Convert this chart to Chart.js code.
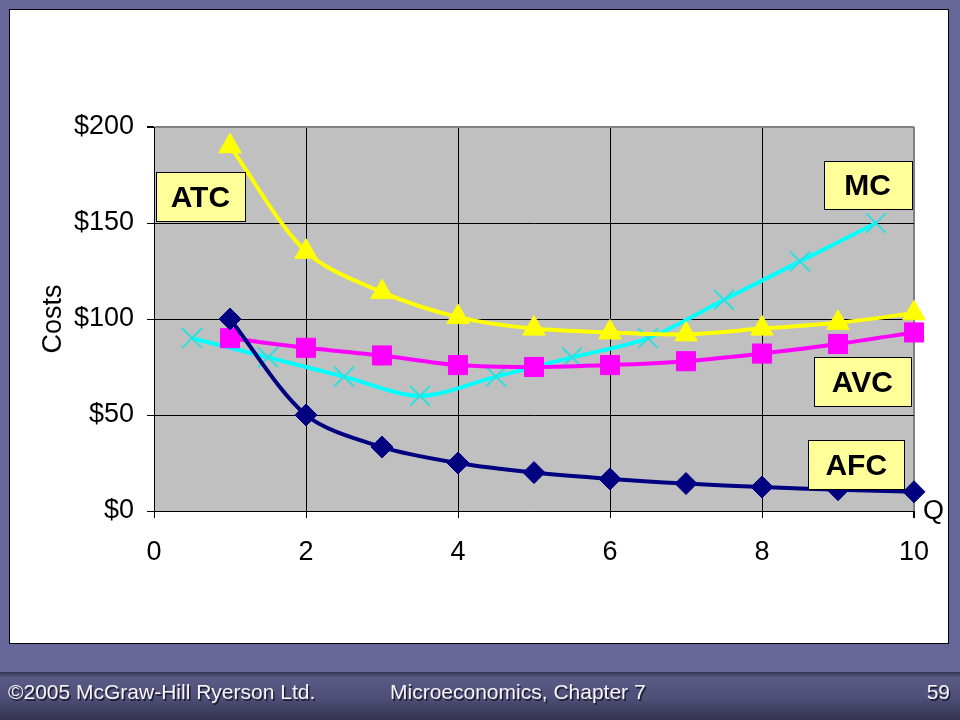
<!DOCTYPE html>
<html>
<head>
<meta charset="utf-8">
<script src="https://cdn.jsdelivr.net/npm/chart.js@4.4.1/dist/chart.umd.min.js"></script>
<style>
html,body{margin:0;padding:0;background:#666699;}
canvas{display:block;}
</style>
</head>
<body>
<canvas id="c" width="960" height="720"></canvas>
<script>
// ---- data ----
const quantity = [1, 2, 3, 4, 5, 6, 7, 8, 9, 10];
const mcQuantity = [0.5, 1.5, 2.5, 3.5, 4.5, 5.5, 6.5, 7.5, 8.5, 9.5];
const afc = [100, 50, 33.3, 25, 20, 16.7, 14.3, 12.5, 11.1, 10];
const avc = [90, 85, 81, 76, 75, 76, 78, 82, 87, 93];
const atc = [190, 135, 114, 101, 95, 93, 92, 95, 98, 103];
const mc = [90, 80, 70, 60, 70, 80, 90, 110, 130, 150];
const xTicks = [0, 2, 4, 6, 8, 10];
const yTicks = [0, 50, 100, 150, 200];
const curveLabels = ['ATC', 'MC', 'AVC', 'AFC'];
const footerTexts = ['©2005 McGraw-Hill Ryerson Ltd.', 'Microeconomics, Chapter 7', '59'];

// label anchors in data units (center), with box size in px
const labelAnchors = {
  ATC: {x: 0.61, y: 163.8, w: 89, h: 49},
  MC:  {x: 9.39, y: 169.8, w: 88, h: 48},
  AVC: {x: 9.32, y: 67.4,  w: 97, h: 49},
  AFC: {x: 9.24, y: 24.2,  w: 96, h: 49}
};

const FONT = "Arial, 'Liberation Sans', sans-serif";
const pts = (xs, ys) => xs.map((x, i) => ({x: x, y: ys[i]}));

const slidePlugin = {
  id: 'slide',
  beforeDraw(chart) {
    const ctx = chart.ctx;
    const W = chart.width, H = chart.height;
    ctx.save();
    ctx.fillStyle = '#666699';
    ctx.fillRect(0, 0, W, H);
    // white panel
    ctx.fillStyle = '#ffffff';
    ctx.fillRect(10, 10, 938, 633);
    ctx.strokeStyle = '#000000';
    ctx.lineWidth = 1;
    ctx.strokeRect(9.5, 9.5, 939, 634);
    // footer bar
    const g = ctx.createLinearGradient(0, 672, 0, 720);
    g.addColorStop(0, '#34344f');
    g.addColorStop(0.12, '#5a5a84');
    g.addColorStop(0.55, '#4e4e78');
    g.addColorStop(1, '#33334d');
    ctx.fillStyle = g;
    ctx.fillRect(0, 672, W, 48);
    ctx.font = '21px ' + FONT;
    ctx.textBaseline = 'alphabetic';
    const drawShadowText = (t, x, y, align) => {
      ctx.textAlign = align;
      ctx.fillStyle = '#1e1e30';
      ctx.fillText(t, x + 1.5, y + 1.5);
      ctx.fillStyle = '#f4f4fa';
      ctx.fillText(t, x, y);
    };
    drawShadowText(footerTexts[0], 8, 699, 'left');
    drawShadowText(footerTexts[1], 390, 699, 'left');
    drawShadowText(footerTexts[2], 950, 699, 'right');
    // plot area background
    const a = chart.chartArea;
    ctx.fillStyle = '#c0c0c0';
    ctx.fillRect(a.left, a.top, a.right - a.left, a.bottom - a.top);
    ctx.restore();
  },
  afterDatasetsDraw(chart) {
    const ctx = chart.ctx;
    const xs = chart.scales.x, ys = chart.scales.y;
    const a = chart.chartArea;
    ctx.save();
    // label boxes
    ctx.font = 'bold 30px ' + FONT;
    ctx.textAlign = 'center';
    ctx.textBaseline = 'middle';
    curveLabels.forEach(name => {
      const an = labelAnchors[name];
      const cx = xs.getPixelForValue(an.x);
      const cy = ys.getPixelForValue(an.y);
      const l = Math.round(cx - an.w / 2) + 0.5, t = Math.round(cy - an.h / 2) + 0.5;
      ctx.fillStyle = '#ffff99';
      ctx.fillRect(l, t, an.w, an.h);
      ctx.strokeStyle = '#000';
      ctx.lineWidth = 1;
      ctx.strokeRect(l, t, an.w, an.h);
      ctx.fillStyle = '#000';
      ctx.fillText(name, cx, cy + 2);
    });
    // Q axis label
    ctx.font = '27px ' + FONT;
    ctx.textAlign = 'left';
    ctx.textBaseline = 'middle';
    ctx.fillStyle = '#000';
    ctx.fillText('Q', a.right + 9, a.bottom + 1);
    ctx.restore();
  }
};

new Chart(document.getElementById('c'), {
  type: 'line',
  data: {
    datasets: [
      {
        label: 'AFC', data: pts(quantity, afc),
        borderColor: '#000080', backgroundColor: '#000080',
        borderWidth: 4, pointStyle: 'rectRot', pointRadius: 11,
        pointBorderWidth: 1, tension: 0.3, clip: false
      },
      {
        label: 'AVC', data: pts(quantity, avc),
        borderColor: '#ff00ff', backgroundColor: '#ff00ff',
        borderWidth: 4, pointStyle: 'rect', pointRadius: 13.5,
        pointBorderWidth: 1, tension: 0.3, clip: false
      },
      {
        label: 'ATC', data: pts(quantity, atc),
        borderColor: '#ffff00', backgroundColor: '#ffff00',
        borderWidth: 4, pointStyle: 'triangle', pointRadius: 13,
        pointBorderWidth: 1, tension: 0.3, clip: false
      },
      {
        label: 'MC', data: pts(mcQuantity, mc),
        borderColor: '#00ffff', backgroundColor: '#00ffff',
        pointBorderColor: '#33dddd',
        borderWidth: 4, pointStyle: 'crossRot', pointRadius: 14,
        pointBorderWidth: 2, tension: 0.3, clip: false
      }
    ]
  },
  options: {
    responsive: false,
    animation: false,
    events: [],
    layout: {padding: {left: 10, top: 127, right: 46, bottom: 149}},
    plugins: {legend: {display: false}, tooltip: {enabled: false}},
    scales: {
      x: {
        type: 'linear', min: 0, max: 10,
        afterFit(s) { s.height = 60; },
        afterBuildTicks(s) { s.ticks = xTicks.map(v => ({value: v})); },
        ticks: {color: '#000', font: {family: FONT, size: 27}, padding: 18, maxRotation: 0},
        grid: {
          color: c => (c.tick && c.tick.value === 10) ? '#808080' : '#000000',
          lineWidth: c => (c.tick && c.tick.value === 10) ? 2 : 1,
          tickColor: '#000', tickLength: 7, drawTicks: true
        },
        border: {display: true, color: '#000', width: 1}
      },
      y: {
        type: 'linear', min: 0, max: 200,
        afterFit(s) { s.width = 144; },
        afterBuildTicks(s) { s.ticks = yTicks.map(v => ({value: v})); },
        ticks: {color: '#000', font: {family: FONT, size: 27}, padding: 13, callback: v => '$' + v},
        grid: {
          color: c => (c.tick && c.tick.value === 200) ? '#808080' : '#000000',
          lineWidth: c => (c.tick && c.tick.value === 200) ? 2 : 1,
          tickColor: '#000', tickLength: 7
        },
        border: {display: true, color: '#000', width: 1},
        title: {display: true, text: 'Costs', color: '#000', font: {family: FONT, size: 27}, padding: {top: 27, bottom: 0}}
      }
    }
  },
  plugins: [slidePlugin]
});
</script>
</body>
</html>
